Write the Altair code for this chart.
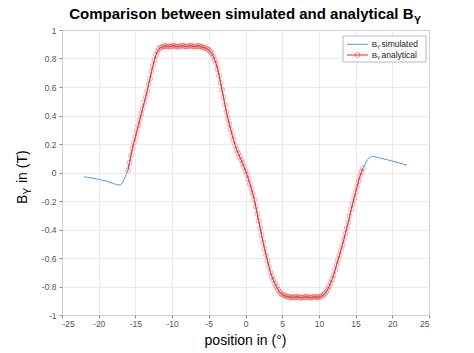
import altair as alt
import numpy as np
import pandas as pd

# ---------------- data ----------------
# Analytical B_Y, sampled every 0.2 deg from -16 to 16 deg
ana_start, ana_step = -16.0, 0.2
ana_by = [
    0.02, 0.07, 0.12, 0.17, 0.21, 0.25, 0.29, 0.33, 0.37, 0.41,            # -16.0 .. -14.2
    0.45, 0.49, 0.53, 0.57, 0.62, 0.66, 0.71, 0.75, 0.79, 0.825,           # -14.0 .. -12.2
    0.85, 0.866, 0.876, 0.881, 0.884, 0.886, 0.888, 0.886, 0.883, 0.884,   # -12.0 .. -10.2
    0.887, 0.89, 0.888, 0.884, 0.882, 0.885, 0.889, 0.891, 0.888, 0.884,  # -10.0 .. -8.2
    0.883, 0.886, 0.89, 0.89, 0.886, 0.883, 0.884, 0.887, 0.888, 0.885,   # -8.0 .. -6.2
    0.882, 0.879, 0.876, 0.872, 0.866, 0.86, 0.85, 0.835, 0.815, 0.79,    # -6.0 .. -4.2
    0.765, 0.725, 0.68, 0.63, 0.58, 0.53, 0.475, 0.425, 0.38, 0.34,       # -4.0 .. -2.2
    0.30, 0.26, 0.225, 0.19, 0.16, 0.135, 0.11, 0.09, 0.065, 0.04,        # -2.0 .. -0.2
    0.01, -0.015, -0.045, -0.08, -0.115, -0.15, -0.19, -0.24, -0.29, -0.34,  # 0.0 .. 1.8
    -0.39, -0.44, -0.49, -0.535, -0.58, -0.62, -0.66, -0.70, -0.73, -0.755,  # 2.0 .. 3.8
    -0.78, -0.80, -0.82, -0.835, -0.848, -0.856, -0.862, -0.866, -0.869, -0.871,  # 4.0 .. 5.8
    -0.873, -0.875, -0.877, -0.876, -0.873, -0.872, -0.874, -0.877, -0.879, -0.877,  # 6.0 .. 7.8
    -0.874, -0.872, -0.873, -0.876, -0.878, -0.877, -0.874, -0.872, -0.873, -0.875,  # 8.0 .. 9.8
    -0.875, -0.872, -0.867, -0.86, -0.85, -0.838, -0.82, -0.80, -0.775, -0.75,      # 10.0 .. 11.8
    -0.72, -0.685, -0.65, -0.615, -0.58, -0.545, -0.51, -0.47, -0.43, -0.39,        # 12.0 .. 13.8
    -0.35, -0.305, -0.26, -0.22, -0.18, -0.14, -0.10, -0.06, -0.025, 0.005,         # 14.0 .. 15.8
    0.03,                                                                             # 16.0
]
ana_pos = [round(ana_start + i * ana_step, 1) for i in range(len(ana_by))]

# Simulated B_Y: follows the analytical curve, plus the outer tails
sim_left_pos = [-22, -21, -20, -19, -18.5, -18, -17.6, -17.3, -17.0, -16.8, -16.6, -16.4, -16.2]
sim_left_by = [-0.03, -0.038, -0.048, -0.06, -0.068, -0.077, -0.084, -0.088, -0.085, -0.075, -0.055, -0.03, -0.005]
sim_right_pos = [16.2, 16.4, 16.6, 16.8, 17.0, 17.3, 17.6, 18.0, 18.5, 19, 20, 21, 22]
sim_right_by = [0.05, 0.07, 0.088, 0.1, 0.108, 0.112, 0.111, 0.106, 0.1, 0.093, 0.08, 0.066, 0.052]

x_ticks = [-25, -20, -15, -10, -5, 0, 5, 10, 15, 20, 25]
y_ticks = [-1, -0.8, -0.6, -0.4, -0.2, 0, 0.2, 0.4, 0.6, 0.8, 1]

ana_df = pd.DataFrame({"pos": ana_pos, "by": ana_by})
sim_df = pd.DataFrame({
    "pos": sim_left_pos + ana_pos + sim_right_pos,
    "by": sim_left_by + ana_by + sim_right_by,
})
one = pd.DataFrame({"a": [0]})

FONT = "Liberation Sans"
W, H = 367, 285
BLUE = "#4f9bd3"
RED = "#ee2a2a"

xscale = alt.Scale(domain=[-25, 25], nice=False, zero=False)
yscale = alt.Scale(domain=[-1, 1], nice=False, zero=False)
lab = "toString(round(datum.value*10)/10)"

xaxis = alt.Axis(values=x_ticks, title=None, grid=True, labelExpr=lab,
                 labelFontSize=8.5, labelColor="#555555", labelFont=FONT,
                 labelPadding=1, tickSize=3, tickColor="#8a8a8a", domain=False)
yaxis = alt.Axis(values=y_ticks, title=None, grid=True, labelExpr=lab,
                 labelFontSize=8.5, labelColor="#555555", labelFont=FONT,
                 labelPadding=3, tickSize=3, tickColor="#8a8a8a", domain=False)

enc = dict(
    x=alt.X("pos:Q", scale=xscale, axis=xaxis),
    y=alt.Y("by:Q", scale=yscale, axis=yaxis),
)

sim = alt.Chart(sim_df).mark_line(color=BLUE, strokeWidth=1).encode(order="pos:Q", **enc)
ana_line = alt.Chart(ana_df).mark_line(color=RED, strokeWidth=1).encode(**enc)
ana_pts = alt.Chart(ana_df).mark_point(shape="circle", filled=False, size=24,
                                       color="#f04848", strokeWidth=0.65, opacity=0.75).encode(**enc)


def txt(s, x, y, size, weight="normal", align="left", angle=0, color="#000000"):
    return alt.Chart(one).mark_text(text=s, font=FONT, fontSize=size, fontWeight=weight,
                                    align=align, baseline="alphabetic", angle=angle,
                                    color=color).encode(x=alt.value(x), y=alt.value(y))


# Title with subscript
title_main = txt("Comparison between simulated and analytical B", 351.5, -11.5, 15, "bold", "right")
title_sub = txt("Y", 352, -6.5, 10.5, "bold", "left")

# x-axis title
xtitle = txt("position in (°)", W / 2, 315, 14, align="center")

# y-axis title (rotated) with subscript
yt_b = txt("B", -35, 174, 14, angle=270)
yt_sub = txt("Y", -31, 164.5, 10, angle=270)
yt_rest = txt("in (T)", -35, 153, 14, angle=270)

# Legend
leg_box = alt.Chart(one).mark_rect(fill="white", stroke="#a8a8a8", strokeWidth=0.8).encode(
    x=alt.value(281), x2=alt.value(364), y=alt.value(6), y2=alt.value(32))
leg_l1 = alt.Chart(one).mark_rule(color=BLUE, strokeWidth=1).encode(
    x=alt.value(285), x2=alt.value(306), y=alt.value(14.3))
leg_l2 = alt.Chart(one).mark_rule(color=RED, strokeWidth=1).encode(
    x=alt.value(285), x2=alt.value(306), y=alt.value(25))
leg_p2 = alt.Chart(one).mark_point(shape="circle", filled=False, size=24, color=RED,
                                   strokeWidth=0.8).encode(x=alt.value(295.5), y=alt.value(25))
leg_t1a = txt("B", 309.7, 17.3, 8, color="#222222")
leg_t1b = txt("Y", 314.8, 19.3, 5.5, color="#222222")
leg_t1c = txt("simulated", 319.5, 17.3, 8.5, color="#222222")
leg_t2a = txt("B", 309.7, 28, 8, color="#222222")
leg_t2b = txt("Y", 314.8, 30, 5.5, color="#222222")
leg_t2c = txt("analytical", 319.5, 28, 8.5, color="#222222")

chart = alt.layer(
    sim, ana_line, ana_pts,
    title_main, title_sub, xtitle, yt_b, yt_sub, yt_rest,
    leg_box, leg_l1, leg_l2, leg_p2,
    leg_t1a, leg_t1b, leg_t1c, leg_t2a, leg_t2b, leg_t2c,
).properties(
    width=W, height=H,
    padding={"left": 62, "top": 30, "right": 45, "bottom": 38},
    autosize=alt.AutoSizeParams(type="none"),
    background="white",
).configure_view(
    stroke="#8c8c8c", strokeWidth=1
).configure_axis(
    gridColor="#e4e4e4", gridWidth=0.8
)

chart.save("out.html", embed_options={"renderer": "svg", "actions": False})
